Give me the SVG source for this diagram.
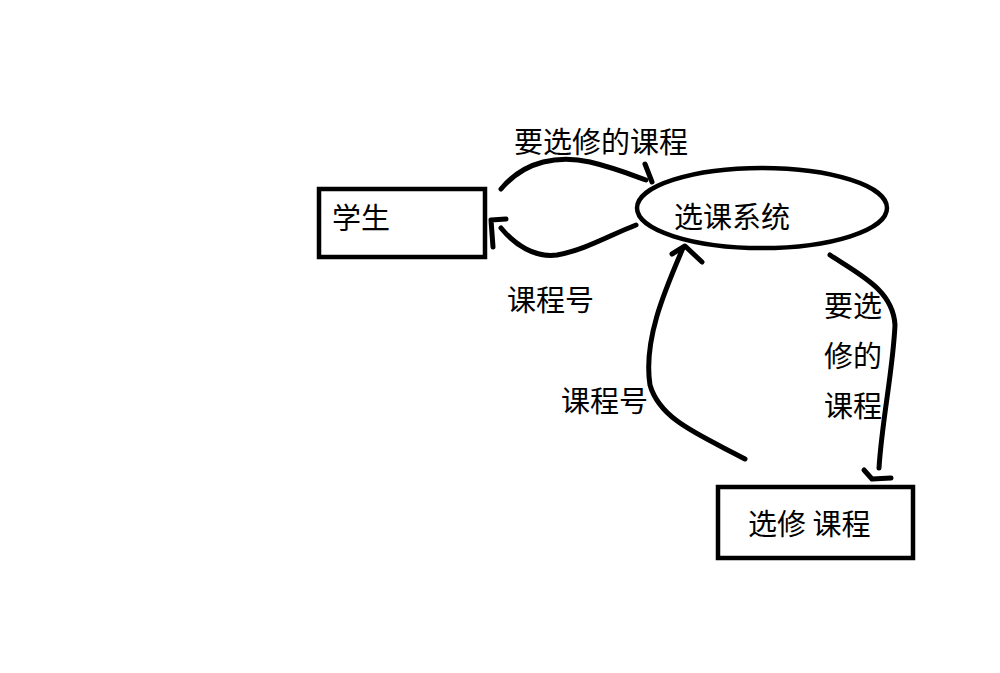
<svg xmlns="http://www.w3.org/2000/svg" width="1000" height="673" viewBox="0 0 1000 673">
<style>
.box{fill:#fff;stroke:#000;stroke-width:4.5}
.ln{fill:none;stroke:#000;stroke-width:5;stroke-linecap:round;stroke-linejoin:round}
text{font-family:"Microsoft YaHei","Noto Sans CJK SC",sans-serif;font-size:29px;fill:#000}
</style>
<rect width="1000" height="673" fill="#fff"/>
<g id="student">
<rect class="box" x="319" y="189" width="166" height="68"/>
<text x="332" y="229">学生</text>
</g>
<g id="system">
<ellipse class="box" cx="762" cy="208" rx="125" ry="40"/>
<text x="674" y="228">选课系统</text>
</g>
<g id="course">
<rect class="box" x="718" y="487" width="195" height="71"/>
<text x="748" y="535">选修 课程</text>
</g>
<g id="connectors">
<path class="ln" d="M501,189 C525,160 560,155 590,162 C615,168 632,175 646,180"/>
<path class="ln" d="M645,164 L652,182"/>
<path class="ln" d="M636,225 C610,235 585,250 557,255 C535,258 515,245 501,228"/>
<path class="ln" d="M493,247 L491,220 L506,219"/>
<path class="ln" d="M745,459 C700,435 660,420 650,385 C643,340 665,290 683,248"/>
<path class="ln" d="M672,254 L685,246 L702,262"/>
<path class="ln" d="M830,255 C860,275 893,290 895,325 C893,370 882,420 879,468"/>
<path class="ln" d="M864,470 L872,479 L891,478"/>
</g>
<g id="labels">
<text x="514" y="153">要选修的课程</text>
<text x="507" y="311">课程号</text>
<text x="561" y="412">课程号</text>
<text x="824" y="317">要选</text>
<text x="824" y="367">修的</text>
<text x="824" y="417">课程</text>
</g>
</svg>
